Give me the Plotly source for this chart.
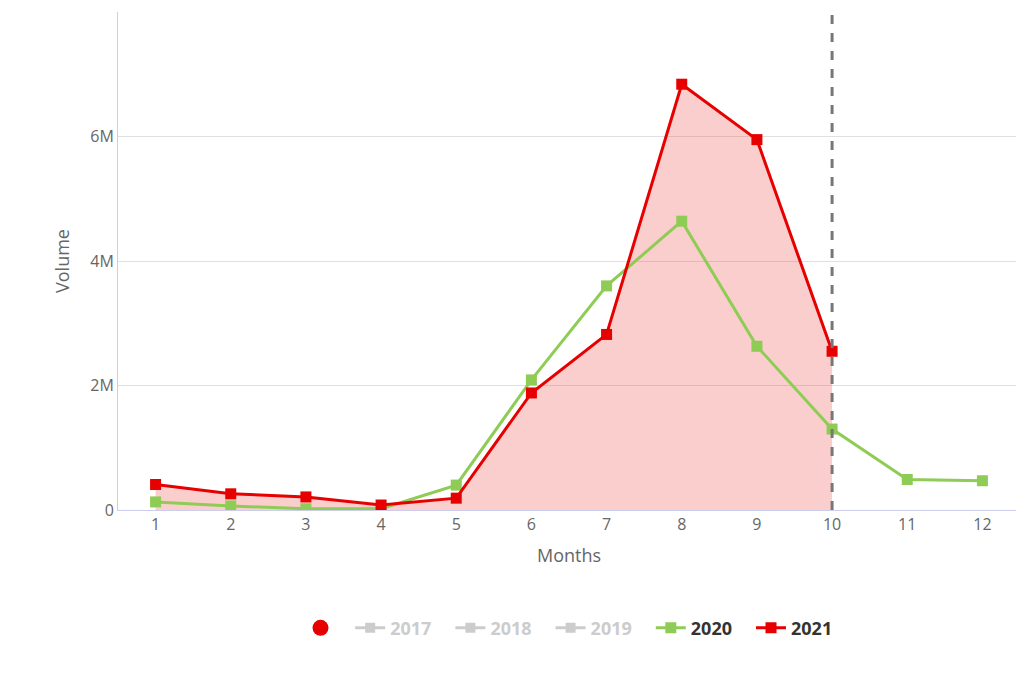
import plotly.graph_objects as go

months = list(range(1, 13))
vol_2021 = [0.41e6, 0.26e6, 0.21e6, 0.08e6, 0.19e6, 1.88e6, 2.82e6, 6.84e6, 5.95e6, 2.55e6]
vol_2020 = [0.13e6, 0.065e6, 0.02e6, 0.02e6, 0.4e6, 2.09e6, 3.6e6, 4.64e6, 2.63e6, 1.30e6, 0.49e6, 0.47e6]
y_ticks = [0, 2e6, 4e6, 6e6, 8e6]
y_labels = ["0", "2M", "4M", "6M", "8M"]
current_month = 10

fig = go.Figure()
# 2021 area drawn first so lines sit above it
fig.add_trace(go.Scatter(x=months[:len(vol_2021)], y=vol_2021, mode="none", fill="tozeroy",
                         fillcolor="rgba(240,80,80,0.28)", showlegend=False, hoverinfo="skip"))
fig.add_trace(go.Scatter(x=[None], y=[None], mode="markers", name=" ",
                         marker=dict(color="#e60000", size=18, symbol="circle")))
for yr in ["2017", "2018", "2019"]:
    fig.add_trace(go.Scatter(x=[None], y=[None], mode="lines+markers",
                             name=f"<b><span style='color:#cccccc'>{yr}</span></b>   ",
                             line=dict(color="#cccccc", width=3),
                             marker=dict(symbol="square", size=10, color="#cccccc")))
fig.add_trace(go.Scatter(x=months[:len(vol_2020)], y=vol_2020, mode="lines+markers", name="<b>2020</b>   ",
                         line=dict(color="#8fcc55", width=3),
                         marker=dict(symbol="square", size=11, color="#8fcc55")))
fig.add_trace(go.Scatter(x=months[:len(vol_2021)], y=vol_2021, mode="lines+markers", name="<b>2021</b>",
                         line=dict(color="#e60000", width=3),
                         marker=dict(symbol="square", size=11, color="#e60000")))

fig.add_shape(type="line", x0=current_month, x1=current_month, y0=0, y1=1, yref="paper",
              line=dict(color="#777777", width=3, dash="dash"))

fig.update_layout(
    width=1024, height=683, paper_bgcolor="white", plot_bgcolor="white",
    margin=dict(l=110, r=12, t=4, b=181),
    font=dict(family="Open Sans, DejaVu Sans", size=16, color="#666666"),
    xaxis=dict(range=[0.5, 12.5], tickvals=months, showgrid=False, zeroline=False,
               showline=True, linecolor="#ccccee", linewidth=1,
               title=dict(text="Months", font=dict(size=18))),
    yaxis=dict(range=[0, 8e6], tickvals=y_ticks, ticktext=y_labels, gridcolor="#e0e0e0",
               zeroline=False, showline=True, linecolor="#ccccee",
               title=dict(text="Volume", font=dict(size=18))),
    legend=dict(orientation="h", x=0.5, xanchor="center", y=-0.2, yanchor="top",
                font=dict(size=18, color="#333333")),
)
fig.write_html("out.html")
